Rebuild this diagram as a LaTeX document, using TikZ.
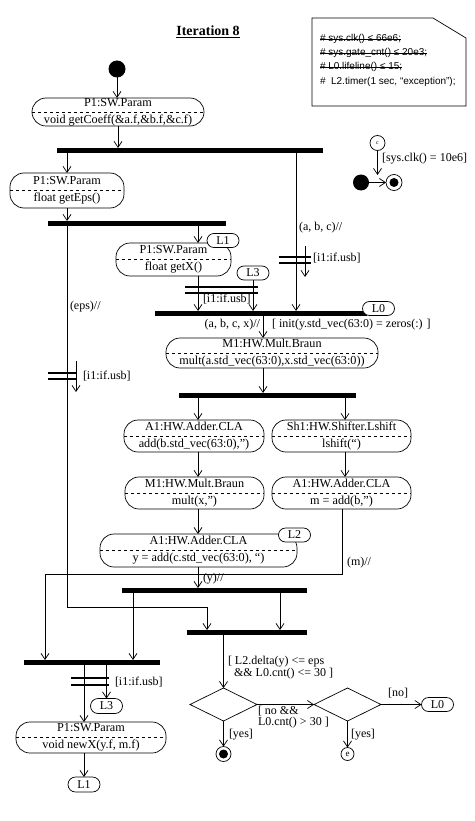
\documentclass[tikz,border=0pt]{standalone}
\usepackage{fontspec}
\setmainfont{Liberation Serif}
\setsansfont{Liberation Sans}
\usetikzlibrary{arrows.meta,shapes.misc,shapes.geometric}
\begin{document}
\begin{tikzpicture}[x=1pt,y=-1pt,line width=0.7pt,
  every node/.style={inner sep=0pt,outer sep=0pt},
  lbl/.style={font=\fontsize{12}{14}\selectfont},
  notetxt/.style={font=\sffamily\fontsize{10}{12}\selectfont,anchor=west},
  act/.style={draw,rectangle,rounded corners=14pt,align=center,fill=white,font=\fontsize{12.2}{17}\selectfont},
  conn/.style={draw,rounded rectangle,fill=white,minimum width=32pt,minimum height=14pt,font=\fontsize{12}{14}\selectfont},
  barnode/.style={fill=black,minimum height=5pt},
  arr/.style={-{Straight Barb[length=6pt,width=8pt]}},
  sepline/.style={dash pattern=on 3pt off 3pt},
  dblbar/.style={line width=2pt},
  startnode/.style={circle,fill=black,minimum size=17pt},
  endnode/.style={circle,draw,fill=white,minimum size=15pt},
  dec/.style={diamond,draw,minimum width=67pt,minimum height=33pt}
]
\useasboundingbox (0,0) rectangle (474,821);
\fill[white] (0,0) rectangle (474,821);

% column coordinates
\coordinate (c198) at (198,0);
\coordinate (c263) at (263,0);
\coordinate (c296) at (296,0);
\coordinate (c345) at (345,0);
\coordinate (c342) at (342,0);
\coordinate (c133) at (133,0);
\coordinate (c280) at (280,0);
\coordinate (c84) at (84,0);

% title
\node[font=\fontsize{14}{16}\selectfont\bfseries] (title) at (208,32) {\underline{Iteration 8}};

% note
\draw (312,18) -- (433,18) -- (466,38) -- (466,106) -- (312,106) -- cycle;
\node[notetxt] (n1) at (320,39) {\# sys.clk() ≤ 66e6;};
\node[notetxt] (n2) at (320,53) {\# sys.gate\_cnt() ≤ 20e3;};
\node[notetxt] (n3) at (320,67) {\# L0.lifeline() ≤ 15;};
\node[notetxt] (n4) at (320,82) {\# \ L2.timer(1 sec, “exception”);};
\draw (n1.west) -- (n1.east);
\draw (n2.west) -- (n2.east);
\draw (n3.west) -- (n3.east);

% start and first action
\node[startnode] (s0) at (117,69) {};
\node[act,minimum width=172pt,minimum height=28pt] (a1) at (118,112) {P1:SW.Param\\void getCoeff(\&a.f,\&b.f,\&c.f)};
\draw[sepline] (a1.west) -- (a1.east);
\draw[arr] (s0.south) -- (s0.south |- a1.north);

\node[barnode,minimum width=266pt] (b1) at (190,150.5) {};
\draw[arr] (a1.south) -- (a1.south |- b1.north);

% getEps
\node[act,minimum width=114pt,minimum height=35pt] (a2) at (67,190.5) {P1:SW.Param\\float getEps()};
\draw[sepline] (a2.west) -- (a2.east);
\draw[arr] (a2.north |- b1.south) -- (a2.north);

\node[barnode,minimum width=178pt] (b2) at (137,223.5) {};
\draw[arr] (a2.south) -- (a2.south |- b2.north);

% getX
\node[act,minimum width=115pt,minimum height=33pt] (gx) at (173.5,259.5) {P1:SW.Param\\float getX()};
\draw[sepline] (gx.west) -- (gx.east);
\draw[arr] (c198 |- b2.south) -- (c198 |- gx.north);
\node[conn] (l1a) at (223,240.5) {L1};

% L0 bar
\node[barnode,minimum width=212pt] (b3) at (261,313.5) {};
\draw[arr] (c198 |- gx.south) -- (c198 |- b3.north);
\node[conn] (l3a) at (253,273) {L3};
\draw[arr] (l3a.south) -- (l3a.south |- b3.north);
\draw[dblbar] (185,287) -- (258,287);
\draw[dblbar] (185,293) -- (258,293);
\node[lbl,anchor=west] (t1) at (203,299) {[i1:if.usb]};

% (a,b,c) branch
\draw[arr] (c296 |- b1.south) -- (c296 |- b3.north);
\node[lbl,anchor=west] (t2) at (299,228) {(a, b, c)//};
\draw[dblbar] (279,257) -- (311,257);
\draw[dblbar] (279,263) -- (311,263);
\coordinate (p1) at (305,246);
\coordinate (p2) at (305,277);
\draw[arr] (p1) -- (p2);
\node[lbl,anchor=west] (t3) at (313,258) {[i1:if.usb]};
\node[conn] (l0a) at (378.5,308.5) {L0};

% M1 mult
\node[act,minimum width=212pt,minimum height=30pt] (m1) at (272,353) {M1:HW.Mult.Braun\\mult(a.std\_vec(63:0),x.std\_vec(63:0))};
\draw[sepline] (m1.west) -- (m1.east);
\draw[arr] (c263 |- b3.south) -- (c263 |- m1.north);
\node[lbl,anchor=east] (t4) at (260,325) {(a, b, c, x)//};
\node[lbl,anchor=west] (t5) at (272,325) {[ init(y.std\_vec(63:0) = zeros(:) ]};

\node[barnode,minimum width=177pt] (b4) at (267.5,395.5) {};
\draw[arr] (c263 |- m1.south) -- (c263 |- b4.north);

% row 1
\node[act,minimum width=140pt,minimum height=32pt] (r1a) at (194,436) {A1:HW.Adder.CLA\\add(b.std\_vec(63:0),”)};
\draw[sepline] (r1a.west) -- (r1a.east);
\node[act,minimum width=139pt,minimum height=32pt] (r1b) at (341.5,436) {Sh1:HW.Shifter.Lshift\\lshift(“)};
\draw[sepline] (r1b.west) -- (r1b.east);
\draw[arr] (c198 |- b4.south) -- (c198 |- r1a.north);
\draw[arr] (c345 |- b4.south) -- (c345 |- r1b.north);

% row 2
\node[act,minimum width=139pt,minimum height=32pt] (r2a) at (194.5,493) {M1:HW.Mult.Braun\\mult(x,”)};
\draw[sepline] (r2a.west) -- (r2a.east);
\node[act,minimum width=139pt,minimum height=32pt] (r2b) at (341.5,493) {A1:HW.Adder.CLA\\m = add(b,”)};
\draw[sepline] (r2b.west) -- (r2b.east);
\draw[arr] (c198 |- r1a.south) -- (c198 |- r2a.north);
\draw[arr] (c345 |- r1b.south) -- (c345 |- r2b.north);

% row 3
\node[act,minimum width=197pt,minimum height=33pt] (r3) at (198.5,550.5) {A1:HW.Adder.CLA\\y = add(c.std\_vec(63:0), “)};
\draw[sepline] (r3.west) -- (r3.east);
\draw[arr] (c198 |- r2a.south) -- (c198 |- r3.north);
\node[conn] (l2) at (294.5,535) {L2};

% bars 3,4,5
\node[barnode,minimum width=185pt] (b5) at (214.5,590.5) {};
\node[barnode,minimum width=120pt] (b6) at (247,632.5) {};
\node[barnode,minimum width=136pt] (b7) at (92,662.5) {};
\draw[arr] (c198 |- r3.south) -- (c198 |- b5.north);
\node[lbl,anchor=west] (t6) at (203,579) {(y)//};

% (m)// branch
\coordinate (mA) at (342,574);
\coordinate (mB) at (45,574);
\draw[arr] (c342 |- r2b.south) -- (mA) -- (mB) -- (mB |- b7.north);
\node[lbl,anchor=west] (t7) at (347,563) {(m)//};

% (eps)// branch
\coordinate (eA) at (67,607);
\coordinate (eB) at (207,607);
\draw[arr] (a2.south |- b2.south) -- (eA) -- (eB) -- (eB |- b6.north);
\node[lbl,anchor=west] (t8) at (70,307) {(eps)//};
\draw[dblbar] (48,373) -- (77,373);
\draw[dblbar] (48,379) -- (77,379);
\coordinate (p3) at (76,361);
\coordinate (p4) at (76,392);
\draw[arr] (p3) -- (p4);
\node[lbl,anchor=west] (t9) at (83,376) {[i1:if.usb]};

\draw[arr] (c133 |- b5.south) -- (c133 |- b7.north);
\draw[arr] (c280 |- b5.south) -- (c280 |- b6.north);

% bottom left
\node[act,minimum width=150pt,minimum height=31pt] (nx) at (91,737.5) {P1:SW.Param\\void newX(y.f, m.f)};
\draw[sepline] (nx.west) -- (nx.east);
\draw[arr] (c84 |- b7.south) -- (c84 |- nx.north);
\node[conn,minimum height=15pt] (l3b) at (106.5,706) {L3};
\draw[arr] (l3b.north |- b7.south) -- (l3b.north);
\draw[dblbar] (71,678) -- (109,678);
\draw[dblbar] (71,685) -- (109,685);
\node[lbl,anchor=west] (t10) at (115,682) {[i1:if.usb]};
\node[conn,minimum height=15pt] (l1b) at (84,784.5) {L1};
\draw[arr] (c84 |- nx.south) -- (l1b.north);

% decisions
\node[dec] (d1) at (223.5,704.5) {};
\draw[arr] (d1.north |- b6.south) -- (d1.north);
\node[lbl,anchor=west] (t11) at (228,662) {[ L2.delta(y) <= eps};
\node[lbl,anchor=west] (t12) at (234,674) {\&\& L0.cnt() <= 30 ]};
\node[endnode] (fin) at (223.5,754) {};
\fill (fin.center) circle (4.5);
\draw[arr] (d1.south) -- (fin.north);
\node[lbl,anchor=west] (t13) at (229,735) {[yes]};

\node[dec] (d2) at (347.5,704.5) {};
\draw[arr] (d1.east) -- (d2.west);
\node[lbl,anchor=west] (t14) at (258,711) {[ no \&\&};
\node[lbl,anchor=west] (t15) at (258,723) {L0.cnt() > 30 ]};
\node[circle,draw,minimum size=13pt,font=\fontsize{9}{10}\selectfont] (ec) at (347.5,754) {e};
\draw[arr] (d2.south) -- (ec.north);
\node[lbl,anchor=west] (t16) at (351,735) {[yes]};
\node[conn] (l0b) at (437.5,704.5) {L0};
\draw[arr] (d2.east) -- (l0b.west);
\node[lbl] (t17) at (398,693) {[no]};

% sys.clk exception
\node[circle,draw,minimum size=15pt,font=\fontsize{6}{7}\selectfont] (cc) at (377.5,143) {c};
\coordinate (tr) at (377.5,175);
\draw[arr] (cc.south) -- (tr);
\node[lbl,anchor=west] (t18) at (382,159) {[sys.clk() = 10e6]};
\node[startnode,minimum size=16pt] (s1) at (361,182.5) {};
\node[endnode,minimum size=16pt] (f2) at (394,182.5) {};
\fill (f2.center) circle (4.5);
\draw[arr] (s1.east) -- (f2.west);
\end{tikzpicture}
\end{document}
